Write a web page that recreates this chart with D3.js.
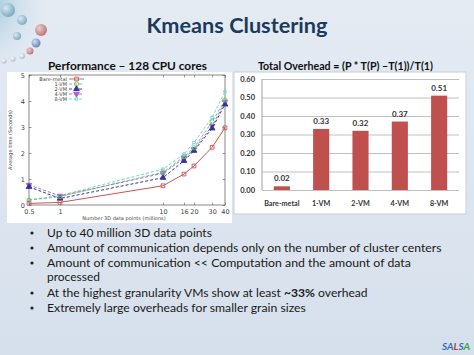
<!DOCTYPE html>
<html><head><meta charset="utf-8">
<script src="https://cdn.jsdelivr.net/npm/d3@7"></script>
<style>body{margin:0;padding:0;overflow:hidden;} svg{display:block;}</style>
</head><body>
<script>
// ---- Data ----
const xPoints = [0.5, 1, 10, 16, 20, 30, 40];
const xTickLabels = ["0.5", "1", "10", "16", "20", "30", "40"];
const yTicksLeft = [0, 1, 2, 3, 4, 5];
const seriesNames = ["Bare-metal", "1-VM", "2-VM", "4-VM", "8-VM"];
const bareMetal = [0.06, 0.10, 0.74, 1.19, 1.50, 2.22, 2.97];
const vm1 = [0.19, 0.32, 1.26, 1.86, 2.20, 3.20, 4.04];
const vm2 = [0.70, 0.25, 1.05, 1.70, 2.09, 2.95, 3.87];
const vm4 = [0.77, 0.35, 1.22, 1.80, 2.14, 3.04, 3.97];
const vm8 = [0.20, 0.36, 1.38, 1.96, 2.40, 3.37, 4.36];
const overheadCats = ["Bare-metal", "1-VM", "2-VM", "4-VM", "8-VM"];
const overheadVals = [0.02, 0.33, 0.32, 0.37, 0.51];
const yTicksRight = [0, 0.1, 0.2, 0.3, 0.4, 0.5, 0.6];
const bullets = [
  "Up to 40 million 3D data points",
  "Amount of communication depends only on the number of cluster centers",
  "Amount of communication  << Computation and the amount of data",
  "processed",
  "At the highest granularity VMs show at least ~33% overhead",
  "Extremely large overheads for smaller grain sizes"
];

const W = 474, H = 355;
const svg = d3.select("body").append("svg").attr("width", W).attr("height", H);
const defs = svg.append("defs");

// background
const bg = defs.append("linearGradient").attr("id", "bg").attr("x1", 0).attr("y1", 0).attr("x2", 0).attr("y2", 1);
bg.append("stop").attr("offset", "0").attr("stop-color", "#e4ebf3");
bg.append("stop").attr("offset", "1").attr("stop-color", "#d6e0ec");
svg.append("rect").attr("width", W).attr("height", H).attr("fill", "url(#bg)");

// decorative corner
const rg = defs.append("radialGradient").attr("id", "corner").attr("cx", 0.2).attr("cy", 0.3).attr("r", 0.8);
rg.append("stop").attr("offset", "0").attr("stop-color", "#8dbdd4").attr("stop-opacity", 0.8);
rg.append("stop").attr("offset", "1").attr("stop-color", "#d9e4ee").attr("stop-opacity", 0);
svg.append("ellipse").attr("cx", 12).attr("cy", 22).attr("rx", 38).attr("ry", 44).attr("fill", "url(#corner)");
const sph = (id, c1, c2) => {
  const g = defs.append("radialGradient").attr("id", id).attr("cx", 0.35).attr("cy", 0.35).attr("r", 0.7);
  g.append("stop").attr("offset", "0").attr("stop-color", c1);
  g.append("stop").attr("offset", "1").attr("stop-color", c2);
};
sph("s1", "#f0c8c8", "#b06060"); sph("s2", "#c8dcf8", "#5070a8"); sph("s3", "#ffffff", "#a8b4c0"); sph("s4", "#d8ecf4", "#6a9cb8");
[[8, 10, 7, "s4"], [22, 20, 5, "s4"], [41, 30, 6, "s1"], [36, 43, 4.5, "s2"], [30, 51, 3.5, "s1"], [22, 56, 3, "s3"], [13, 59, 2.6, "s3"], [4, 61, 2.6, "s3"], [17, 36, 4, "s4"]]
  .forEach(d => svg.append("circle").attr("cx", d[0]).attr("cy", d[1]).attr("r", d[2]).attr("fill", `url(#${d[3]})`).attr("opacity", 0.85));

const FONT = "Lato, 'Open Sans', sans-serif";
const fitText = (sel, target) => {
  const fs = +sel.attr("font-size");
  const w = sel.node().getComputedTextLength();
  if (w > 0) sel.attr("font-size", (fs * target / w).toFixed(2));
  return sel;
};

// Title
fitText(svg.append("text").attr("x", 237).attr("y", 33).attr("text-anchor", "middle")
  .attr("font-family", FONT).attr("font-weight", 700).attr("font-size", 24)
  .attr("fill", "#1b3a5e").text("Kmeans Clustering"), 181);

fitText(svg.append("text").attr("x", 48).attr("y", 70).attr("font-family", FONT).attr("font-weight", 700)
  .attr("font-size", 10).attr("fill", "#111").text("Performance \u2013 128 CPU cores"), 159);
fitText(svg.append("text").attr("x", 258).attr("y", 70).attr("font-family", FONT).attr("font-weight", 700)
  .attr("font-size", 10).attr("fill", "#111").text("Total Overhead = (P * T(P) \u2013T(1))/T(1)"), 175);

// ---- Left chart ----
svg.append("rect").attr("x", 7).attr("y", 72).attr("width", 225).attr("height", 151).attr("fill", "#ffffff");
const x = d3.scaleLog().domain([0.5, 40]).range([29, 225]);
const y = d3.scaleLinear().domain([0, 5]).range([205, 75]);
const L = svg.append("g");
L.append("rect").attr("x", 29).attr("y", 75).attr("width", 196).attr("height", 130)
  .attr("fill", "none").attr("stroke", "#555").attr("stroke-width", 0.7);
const tickFont = "'DejaVu Sans', sans-serif";
const xb = L.append("g").attr("transform", "translate(0,205)")
  .call(d3.axisBottom(x).tickValues(xPoints).tickFormat((d, i) => xTickLabels[i]).tickSize(-2.5).tickPadding(4));
const xt = L.append("g").attr("transform", "translate(0,75)")
  .call(d3.axisTop(x).tickValues(xPoints).tickFormat("").tickSize(-2.5));
const yl = L.append("g").attr("transform", "translate(29,0)")
  .call(d3.axisLeft(y).tickValues(yTicksLeft).tickFormat(d3.format("d")).tickSize(-2.5).tickPadding(4));
const yr = L.append("g").attr("transform", "translate(225,0)")
  .call(d3.axisRight(y).tickValues(yTicksLeft).tickFormat("").tickSize(-2.5));
[xb, xt, yl, yr].forEach(g => {
  g.select(".domain").remove();
  g.selectAll("line").attr("stroke", "#555").attr("stroke-width", 0.6);
  g.selectAll("text").attr("font-family", tickFont).attr("font-size", 6.5).attr("fill", "#444");
});
L.append("text").attr("transform", "translate(12,140) rotate(-90)").attr("text-anchor", "middle")
  .attr("font-family", tickFont).attr("font-size", 5).attr("fill", "#444").text("Average time (Seconds)");
L.append("text").attr("x", 124).attr("y", 220).attr("text-anchor", "middle")
  .attr("font-family", tickFont).attr("font-size", 5).attr("fill", "#444").text("Number 3D data points (millions)");

const seriesVals = [bareMetal, vm1, vm2, vm4, vm8];
const colors = ["#cc5555", "#6cc36c", "#33339a", "#b060d0", "#6cd6d6"];
const dashes = [null, "3,2", "3,2", "3,2", "3,2"];
const symbols = [d3.symbolSquare, d3.symbolCircle, d3.symbolTriangle, d3.symbolTriangle, d3.symbolSquare];
const filled = [false, false, true, true, false];
const sizes = [14, 14, 14, 14, 6];
const line = d3.line().x(d => x(d[0])).y(d => y(d[1]));
const drawMarker = (g, i, cx, cy) => {
  g.append("path").attr("d", d3.symbol().type(symbols[i]).size(sizes[i])())
    .attr("transform", `translate(${cx},${cy})` + (i === 3 ? " rotate(180)" : ""))
    .attr("fill", filled[i] ? colors[i] : "none").attr("stroke", colors[i]).attr("stroke-width", 0.9);
};
// draw back-to-front: 8-VM ... bare
[4, 3, 2, 1, 0].forEach(i => {
  const pts = xPoints.map((xv, j) => [xv, seriesVals[i][j]]);
  L.append("path").attr("d", line(pts)).attr("fill", "none").attr("stroke", colors[i])
    .attr("stroke-width", 1).attr("stroke-dasharray", dashes[i]);
  pts.forEach(p => drawMarker(L, i, x(p[0]), y(p[1])));
});
// legend
seriesNames.forEach((n, i) => {
  const ly = 79 + i * 5;
  L.append("text").attr("x", 67).attr("y", ly + 1.8).attr("text-anchor", "end")
    .attr("font-family", tickFont).attr("font-size", 5).attr("fill", "#444").text(n);
  L.append("line").attr("x1", 69).attr("x2", 84).attr("y1", ly).attr("y2", ly)
    .attr("stroke", colors[i]).attr("stroke-width", 0.9).attr("stroke-dasharray", dashes[i]);
  drawMarker(L, i, 76.5, ly);
});

// ---- Right chart ----
svg.append("rect").attr("x", 234).attr("y", 72).attr("width", 232).attr("height", 142)
  .attr("fill", "#ffffff").attr("stroke", "#c8d0da").attr("stroke-width", 1);
const R = svg.append("g");
const xb2 = d3.scaleBand().domain(overheadCats).range([262, 459]).paddingInner(0.59).paddingOuter(0.3);
const y2 = d3.scaleLinear().domain([0, 0.6]).range([190, 79]);
const ya = R.append("g").attr("transform", "translate(262,0)")
  .call(d3.axisLeft(y2).tickValues(yTicksRight).tickFormat(d3.format(".2f")).tickSize(-197).tickPadding(7));
ya.select(".domain").attr("stroke", "#a0a0a0").attr("d", "M0,79V190");
ya.selectAll(".tick line").attr("stroke", "#b0b0b0").attr("stroke-width", 0.8);
ya.selectAll("text").attr("font-family", FONT).attr("font-weight", 700).attr("font-size", 7.5).attr("fill", "#333");
R.selectAll("rect.bar").data(overheadVals).enter().append("rect").attr("class", "bar")
  .attr("x", (d, i) => xb2(overheadCats[i])).attr("width", xb2.bandwidth())
  .attr("y", d => y2(d)).attr("height", d => y2(0) - y2(d)).attr("fill", "#c0504d");
R.selectAll("text.val").data(overheadVals).enter().append("text").attr("class", "val")
  .attr("x", (d, i) => xb2(overheadCats[i]) + xb2.bandwidth() / 2).attr("y", d => y2(d) - 5)
  .attr("text-anchor", "middle").attr("font-family", FONT).attr("font-weight", 700)
  .attr("font-size", 8).attr("fill", "#333").text(d => d3.format(".2f")(d));
R.selectAll("text.cat").data(overheadCats).enter().append("text").attr("class", "cat")
  .attr("x", d => xb2(d) + xb2.bandwidth() / 2).attr("y", 206).attr("text-anchor", "middle")
  .attr("font-family", FONT).attr("font-weight", 700).attr("font-size", 7.2).attr("fill", "#333").text(d => d);

// ---- Bullets ----
const bulletY = [237, 252, 267, 281, 297, 312];
const bulletW = [165, 395, 364, 53, 321, 259];
const B = svg.append("g");
bullets.forEach((t, i) => {
  if (i !== 3) B.append("circle").attr("cx", 32).attr("cy", bulletY[i] - 4).attr("r", 1.6).attr("fill", "#222");
  const tx = B.append("text").attr("x", 47).attr("y", bulletY[i]).attr("font-family", FONT)
    .attr("font-size", 12.5).attr("fill", "#1a1a1a");
  if (t.includes("~33%")) {
    const parts = t.split("~33%");
    tx.append("tspan").text(parts[0]);
    tx.append("tspan").attr("font-weight", 700).text("~33%");
    tx.append("tspan").text(parts[1]);
  } else tx.text(t);
  fitText(tx, bulletW[i]);
});

// SALSA logo
const logo = svg.append("text").attr("x", 470).attr("y", 350).attr("text-anchor", "end")
  .attr("font-family", FONT).attr("font-weight", 700).attr("font-style", "italic").attr("font-size", 10);
[["S", "#2e6fb8"], ["A", "#2e6fb8"], ["L", "#d03030"], ["S", "#2e6fb8"], ["A", "#3aa040"]]
  .forEach(d => logo.append("tspan").attr("fill", d[1]).text(d[0]));
</script>
</body></html>
